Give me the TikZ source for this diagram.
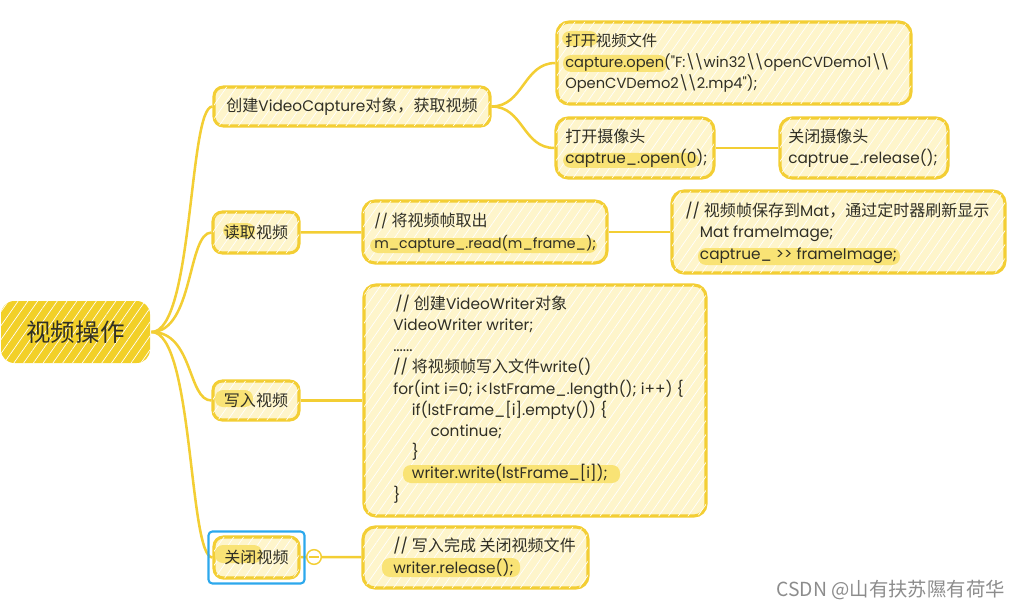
\documentclass[tikz,border=0pt]{standalone}
\usepackage{fontspec}
\setmainfont{Poppins}[Ligatures=TeXOff]
\newfontfamily\cjk{Noto Sans CJK SC}[Scale=1.045]
\usetikzlibrary{fit, calc, backgrounds, patterns.meta}
\definecolor{amarilloraiz}{HTML}{F2D028}
\definecolor{amarilloborde}{HTML}{F3CE34}
\definecolor{amarillopalido}{HTML}{FEF5CB}
\definecolor{amarillomarca}{HTML}{F9E375}
\definecolor{grisoscuro}{HTML}{302F25}
\definecolor{azulseleccion}{HTML}{2CA8EC}
\colorlet{colRaiz}{amarilloraiz}
\colorlet{colBorde}{amarilloborde}
\colorlet{colRelleno}{amarillopalido}
\colorlet{colResalte}{amarillomarca}
\colorlet{colTexto}{grisoscuro}
\colorlet{colSeleccion}{azulseleccion}
\newcommand{\dosbarras}{\textbackslash\kern-0.9pt\textbackslash}
\tikzset{
  cajaBase/.style={
    line width=2.3pt, rounded corners=7pt, inner sep=0pt,
    postaction={pattern={Lines[angle=55,distance=6pt,line width=.5pt]},
      pattern color=white}
  },
  cajaRaiz/.style={cajaBase, fill=colRaiz, rounded corners=10pt},
  cajaRama/.style={cajaBase, draw=colBorde, fill=colRelleno},
  cajaHoja/.style={cajaBase, draw=colBorde, fill=colRelleno, rounded corners=9pt},
  resaltado/.style={fill=colResalte, rounded corners=6pt},
  texto/.style={anchor=base west, inner sep=0pt, align=left, text=colTexto,
    font=\fontsize{11.5}{15.9}\selectfont},
  textoRama/.style={inner sep=0pt, text=colTexto, font=\fontsize{11.5}{13}\selectfont},
  textoRaiz/.style={inner sep=0pt, text=colTexto, font=\cjk\fontsize{17.6}{20}\selectfont},
  rama/.style={draw=colBorde, line width=1.9pt},
  plegado/.style={circle, draw=colBorde, fill=white, line width=1.1pt,
    minimum size=11pt, inner sep=0pt},
  seleccion/.style={draw=colSeleccion, line width=1.6pt, rounded corners=3pt},
  marcaAgua/.style={inner sep=0pt, text=black!45, font=\cjk\fontsize{13.9}{16}\selectfont},
}

\begin{document}
\begin{tikzpicture}[x=0.75pt, y=-0.75pt]
  \useasboundingbox (0,0) rectangle (1020,606);

  % cajas
  \node[cajaRaiz, fit={(1,301) (150,363)}] (raiz) {};
  \node[cajaRama, fit={(214,87) (490,126)}] (crear) {};
  \node[cajaRama, fit={(213,212) (299,253)}] (leer) {};
  \node[cajaRama, fit={(213,381) (299,420)}] (escribir) {};
  \node[cajaRama, fit={(214,537) (299,578)}] (cerrar) {};
  \node[cajaHoja, fit={(557,22) (911,104)}] (abrirArchivo) {};
  \node[cajaHoja, fit={(556,118) (714,178)}] (abrirCamara) {};
  \node[cajaHoja, fit={(780,118) (948,178)}] (cerrarCamara) {};
  \node[cajaHoja, fit={(363,201) (607,263)}] (extraer) {};
  \node[cajaHoja, fit={(672,191) (1005,273)}] (guardarMat) {};
  \node[cajaHoja, fit={(364,285) (706,516)}] (codigo) {};
  \node[cajaHoja, fit={(363,527) (588,588)}] (cerrarArchivo) {};

  % marcas de rotulador
  \fill[resaltado] (562,31) rectangle (598,46);
  \fill[resaltado] (563,55) rectangle (667,72);
  \fill[resaltado] (563,153) rectangle (699,168);
  \fill[resaltado] (223,223) rectangle (255,238);
  \fill[resaltado] (370,238) rectangle (597,253);
  \fill[resaltado] (698,248) rectangle (900,265);
  \fill[resaltado] (215,390) rectangle (253,407);
  \fill[resaltado] (403,465) rectangle (620,483);
  \fill[resaltado] (215,545) rectangle (262,563);
  \fill[resaltado] (382,558) rectangle (520,577);

  % textos
  \node[textoRaiz] (raizT) at (raiz) {视频操作};
  \node[textoRama] (crearT) at (crear) {{\cjk 创建}VideoCapture{\cjk 对象，获取视频}};
  \node[textoRama] (leerT) at (leer) {\cjk 读取视频};
  \node[textoRama] (escribirT) at (escribir) {\cjk 写入视频};
  \node[textoRama] (cerrarT) at (cerrar) {\cjk 关闭视频};
  \node[texto, font=\fontsize{11}{15.9}\selectfont] (abrirArchivoT) at (565,89)
    {{\cjk 打开视频文件}\\capture.open("F:\dosbarras win32\dosbarras openCVDemo1\dosbarras\\OpenCVDemo2\dosbarras 2.mp4");};
  \node[texto] (abrirCamaraT) at (565,164) {{\cjk 打开摄像头}\\captrue\_.open(0);};
  \node[texto] (cerrarCamaraT) at (788,164) {{\cjk 关闭摄像头}\\captrue\_.release();};
  \node[texto, font=\fontsize{10.6}{15.9}\selectfont] (extraerT) at (374,248)
    {// {\cjk\fontsize{11.5}{15.9}\selectfont 将视频帧取出}\\m\_capture\_.read(m\_frame\_);};
  \node[texto] (guardarMatT) at (685,259)
    {// {\cjk 视频帧保存到}Mat{\cjk ，通过定时器刷新显示}\\\hspace*{11pt}Mat frameImage;\\\hspace*{11pt}captrue\_ >> frameImage;};
  \node[texto] (codigoT) at (393,500)
    {\hspace*{1.5pt}// {\cjk 创建}VideoWriter{\cjk 对象}\\VideoWriter writer;\\......\\// {\cjk 将视频帧写入文件}write()\\for(int i=0; i<lstFrame\_.length(); i++) \{\\\hspace*{14pt}if(lstFrame\_[i].empty()) \{\\\hspace*{28pt}continue;\\\hspace*{14pt}\}\\\hspace*{14pt}writer.write(lstFrame\_[i]);\\\}};
  \node[texto] (cerrarArchivoT) at (393,573) {// {\cjk 写入完成 关闭视频文件}\\writer.release();};

  \node[plegado] (plegar) at (314,557) {};
  \draw[colBorde, line width=1pt] ([xshift=-3.5pt]plegar.center) -- ([xshift=3.5pt]plegar.center);
  \node[seleccion, fit=(cerrar), inner sep=3pt] (marcoSeleccion) {};

  \node[marcaAgua, anchor=base east] (firma) at (1005,596) {CSDN @山有扶苏隰有荷华};

  % conexiones
  \begin{scope}[on background layer]
    \draw[rama] (raiz.east) .. controls +(42,0) and +(-24,0) .. (crear.west);
    \draw[rama] (raiz.east) .. controls +(42,0) and +(-24,0) .. (leer.west);
    \draw[rama] (raiz.east) .. controls +(42,0) and +(-24,0) .. (escribir.west);
    \draw[rama] (raiz.east) .. controls +(42,0) and +(-24,0) .. (cerrar.west);
    \draw[rama] (crear.east) .. controls +(32,0) and +(-32,0) .. (abrirArchivo.west);
    \draw[rama] (crear.east) .. controls +(32,0) and +(-32,0) .. (abrirCamara.west);
    \draw[rama] (abrirCamara) -- (cerrarCamara);
    \draw[rama] (leer) -- (extraer);
    \draw[rama] (extraer) -- (guardarMat);
    \draw[rama] (escribir) -- (codigo);
    \draw[rama] (cerrar) -- (plegar);
    \draw[rama] (plegar) -- (cerrarArchivo);
  \end{scope}
\end{tikzpicture}
\end{document}
